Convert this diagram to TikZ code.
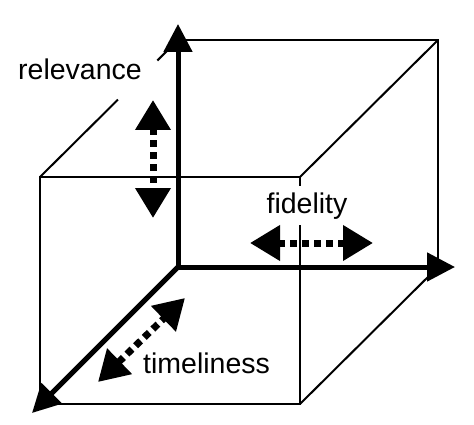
\documentclass[tikz,border=0pt]{standalone}
\usepackage{fontspec}
\setmainfont{Liberation Sans}
\usetikzlibrary{arrows.meta,calc}

\begin{document}
\begin{tikzpicture}[
    x=1pt, y=-1pt,
    edge/.style={line width=2pt},
    axis/.style={line width=5pt, -{Triangle[length=28pt,width=28pt]}},
    dblarrow/.style={line width=7pt, dash pattern=on 7pt off 5pt, {Triangle[length=30pt,width=34pt]}-{Triangle[length=30pt,width=34pt]}},
    label/.style={font=\fontsize{28.5}{31}\selectfont, fill=white, inner sep=6pt}
]
\useasboundingbox (0,0) rectangle (474,425);

% Corners of the cube
\coordinate (ftl) at (40,177);
\coordinate (ftr) at (300,177);
\coordinate (fbl) at (40,404);
\coordinate (fbr) at (300,404);
\coordinate (btl) at (178,40);
\coordinate (btr) at (438,40);
\coordinate (orig) at (178,267);
\coordinate (bbr) at (438,267);

% Axis ends
\coordinate (relTip) at (178,24);
\coordinate (fidTip) at (455,267);
\coordinate (timTip) at (32,413);

% Cube edges
\draw [edge] (ftl) -- (ftr) -- (fbr) -- (fbl) -- cycle;
\draw [edge] (btl) -- (btr) -- (bbr);
\draw [edge] (ftr) -- (btr);
\draw [edge] (fbr) -- (bbr);
\draw [edge] (ftl) -- ($(ftl)!0.565!(btl)$);
\draw [edge] ($(ftl)!0.85!(btl)$) -- (btl);

% Axes
\draw [axis] (orig) -- (relTip);
\draw [axis] (orig) -- (fidTip);
\draw [axis] (orig) -- (timTip);

% Labels
\node (relevance) [label, anchor=base west, inner sep=2pt] at (16,80) {relevance};
\node (fidelity) [label, anchor=base] at (307,213) {fidelity};
\node (timeliness) [label, anchor=base west, inner sep=2pt] at (141,373) {timeliness};

% Double arrows
\coordinate (relA) at (153,100);
\coordinate (relB) at (153,218);
\coordinate (fidA) at (250,243);
\coordinate (fidB) at (373,243);
\coordinate (timA) at (98,382);
\coordinate (timB) at (185,298);
\draw [dblarrow] (relA) -- (relB);
\draw [dblarrow] (fidA) -- (fidB);
\draw [dblarrow] (timA) -- (timB);

\end{tikzpicture}
\end{document}
